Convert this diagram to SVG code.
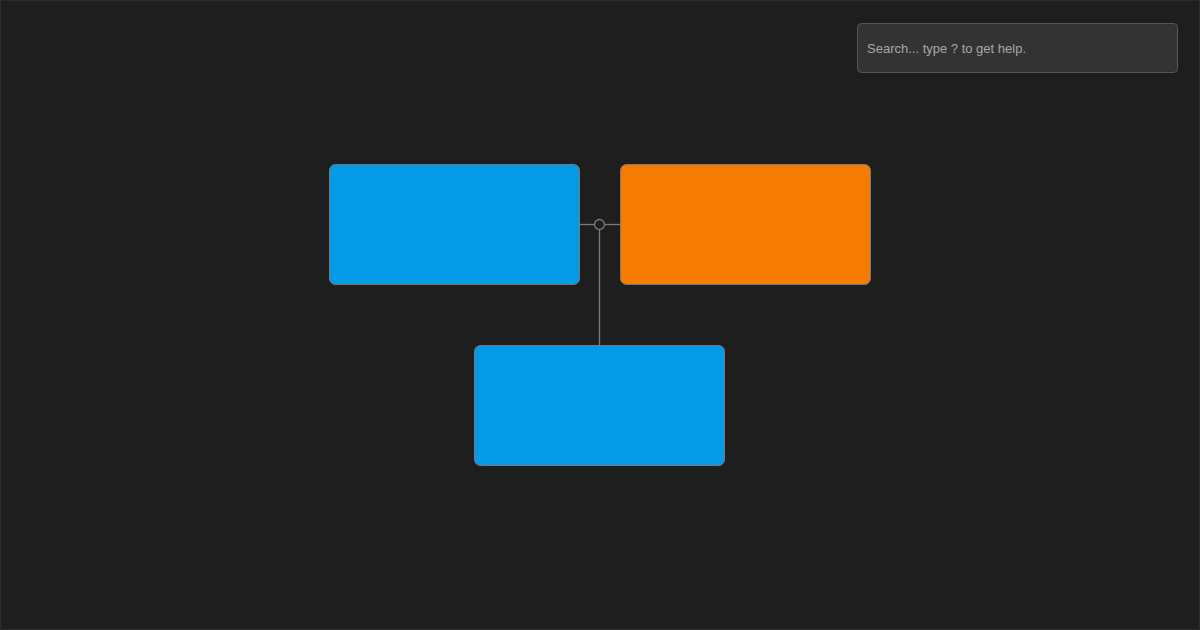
<svg xmlns="http://www.w3.org/2000/svg" width="1200" height="630" viewBox="0 0 1200 630">
<style>
.node{stroke:#7a7a7a;stroke-width:1}
.blue{fill:#039be5}
.orange{fill:#f57c00}
.conn{stroke:#7a7a7a;stroke-width:1.3;fill:none}
.txt{font-family:"Liberation Sans",Arial,sans-serif;font-size:13px;fill:#a8a8a8}
</style>
<rect x="0" y="0" width="1200" height="630" fill="#1e1e1e"/>
<rect x="0.5" y="0.5" width="1199" height="629" fill="none" stroke="#2c2c2c"/>
<g id="connectors">
<line class="conn" x1="579.5" y1="224.5" x2="594.5" y2="224.5"/>
<line class="conn" x1="604.5" y1="224.5" x2="620" y2="224.5"/>
<line class="conn" x1="599.5" y1="229.5" x2="599.5" y2="345"/>
<circle class="conn" cx="599.5" cy="224.5" r="5"/>
</g>
<g id="node-left"><rect class="node blue" x="329.5" y="164.5" width="250" height="120" rx="6"/></g>
<g id="node-right"><rect class="node orange" x="620.5" y="164.5" width="250" height="120" rx="6"/></g>
<g id="node-bottom"><rect class="node blue" x="474.5" y="345.5" width="250" height="120" rx="6"/></g>
<g id="search">
<rect x="857.5" y="23.5" width="320" height="49" rx="4" fill="#333333" stroke="#555555"/>
<text class="txt" x="867" y="53">Search... type ? to get help.</text>
</g>
</svg>
